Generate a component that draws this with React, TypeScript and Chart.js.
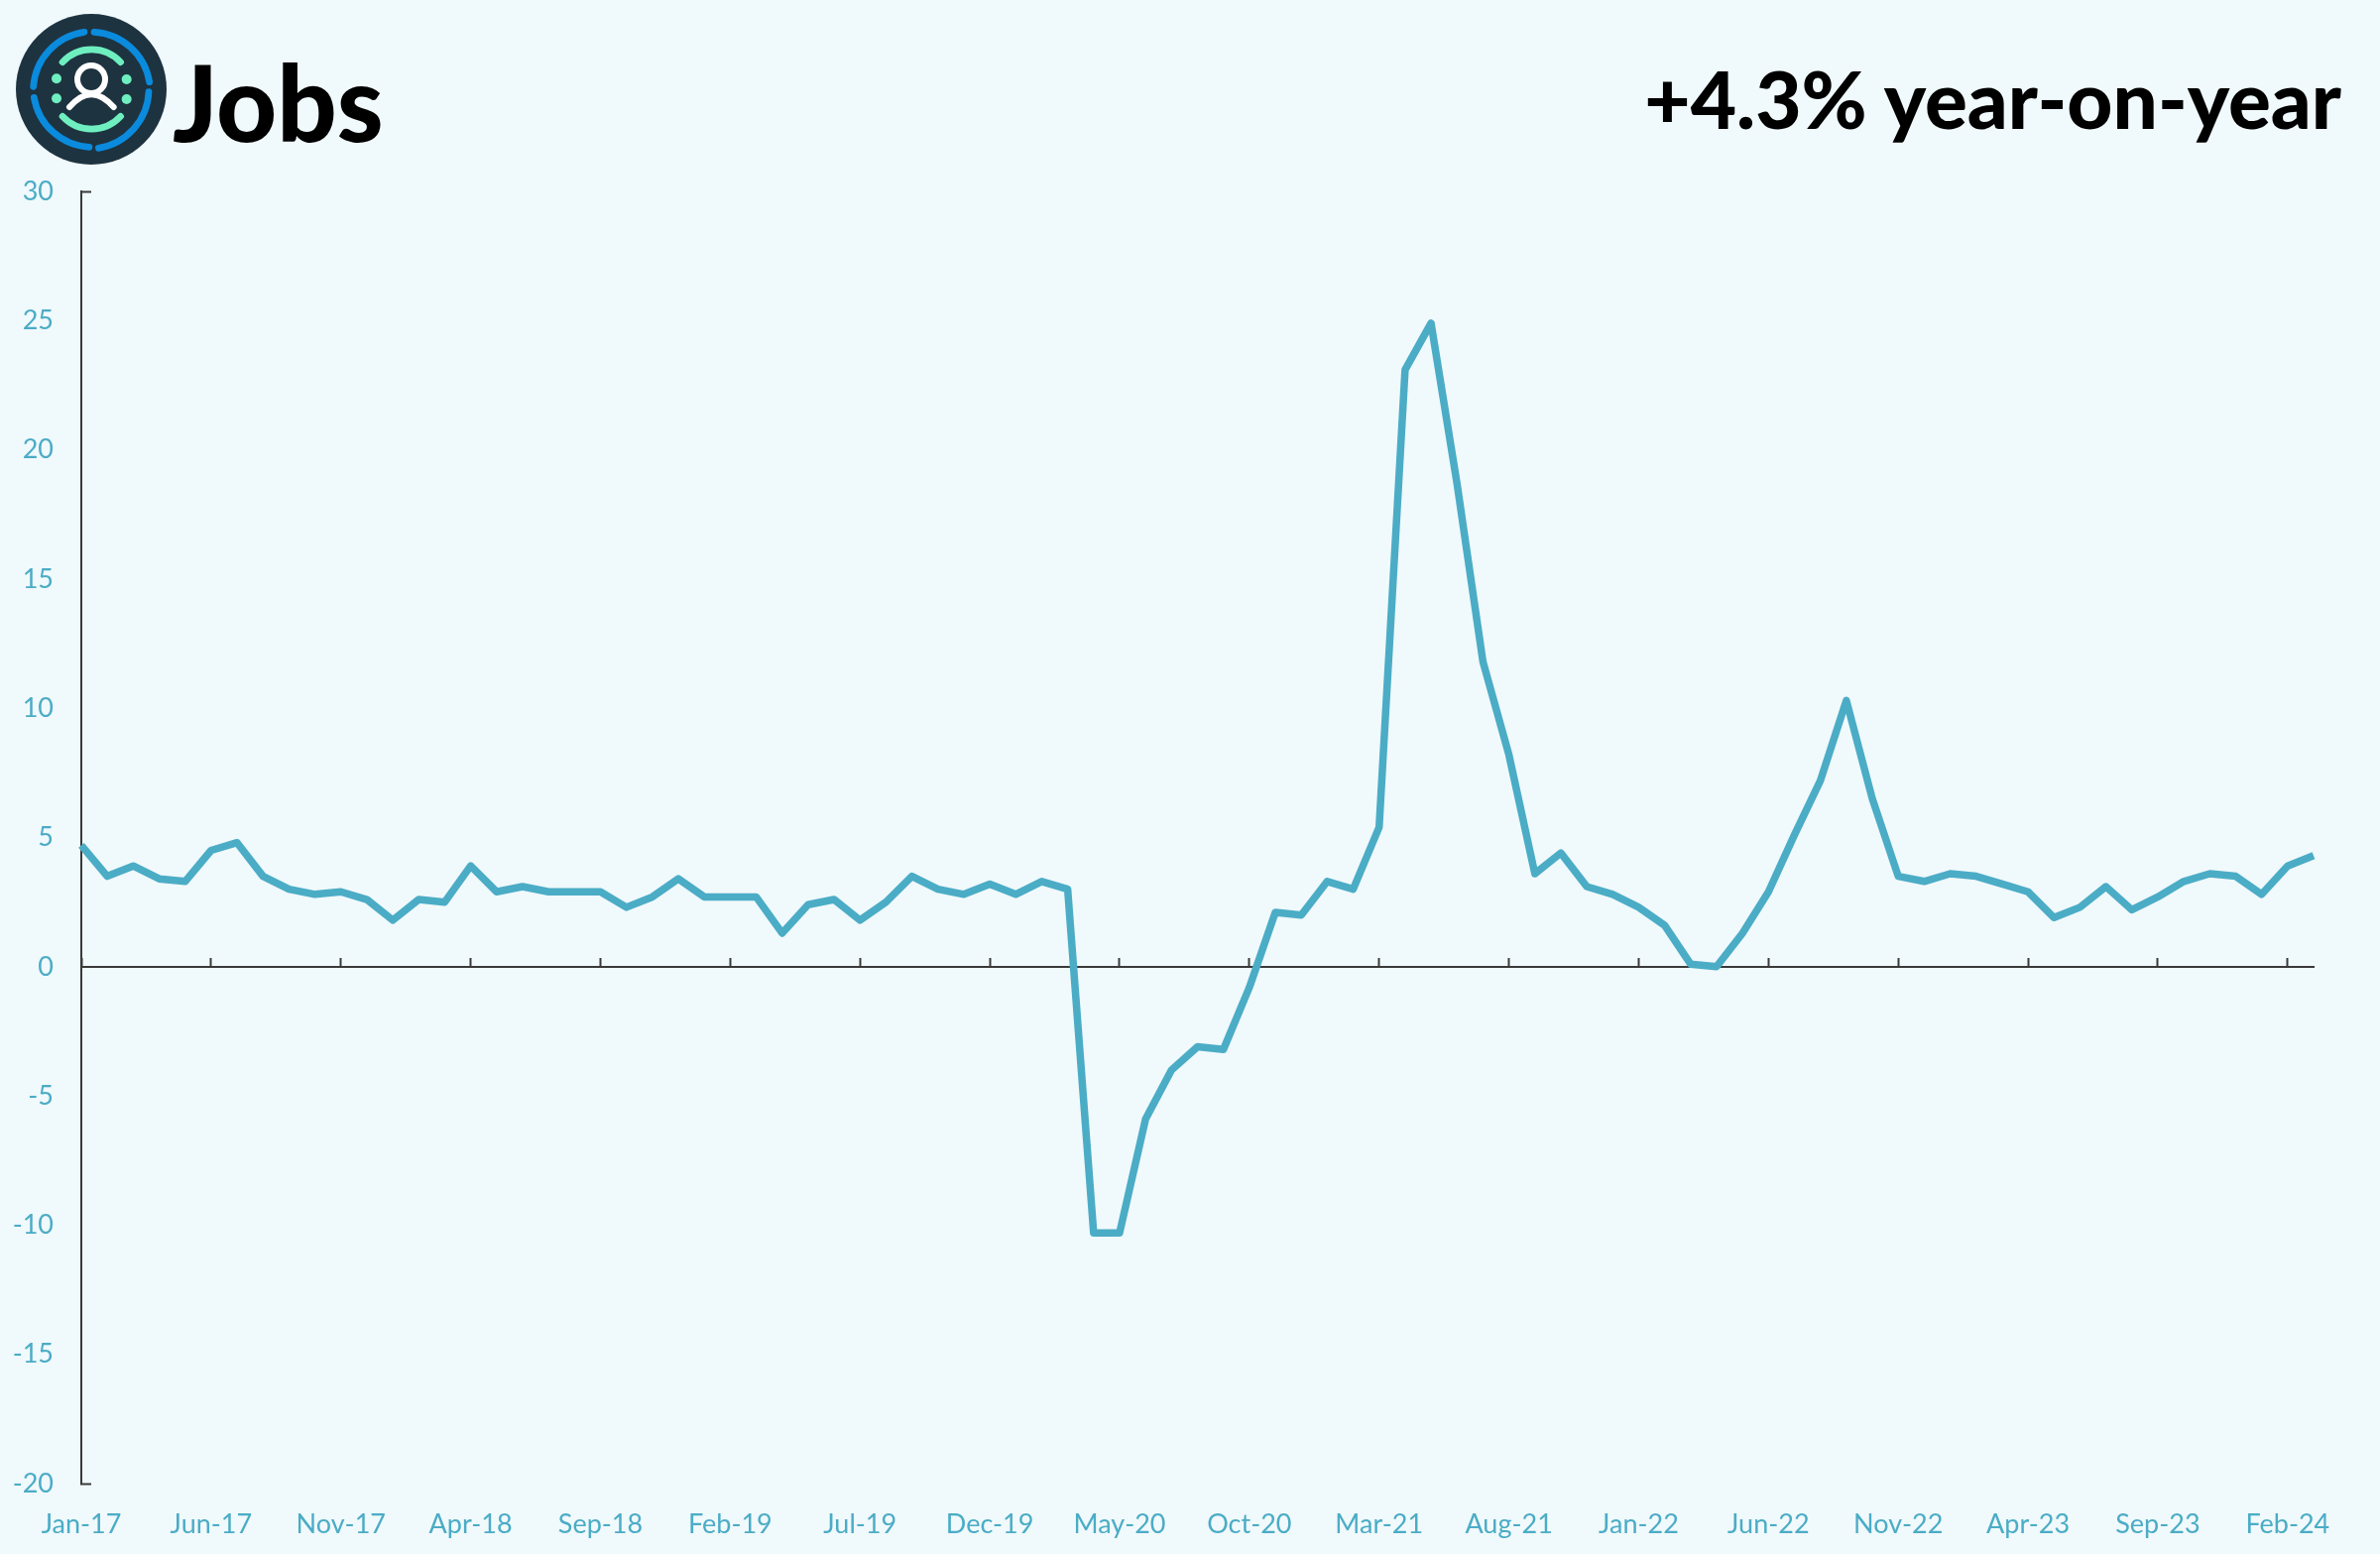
import React, { useEffect, useRef } from 'react';
import { Chart, registerables } from 'chart.js';

Chart.register(...registerables);

const MONTHS = ['Jan', 'Feb', 'Mar', 'Apr', 'May', 'Jun', 'Jul', 'Aug', 'Sep', 'Oct', 'Nov', 'Dec'];
const YEARS = ['17', '18', '19', '20', '21', '22', '23', '24'];
const LAST_YEAR_MONTHS = 3;

const categories: string[] = YEARS.flatMap((y, i) =>
  MONTHS.slice(0, i === YEARS.length - 1 ? LAST_YEAR_MONTHS : 12).map(m => `${m}-${y}`)
);

const jobs2017 = [4.7, 3.5, 3.9, 3.4, 3.3, 4.5, 4.8, 3.5, 3.0, 2.8, 2.9, 2.6];
const jobs2018 = [1.8, 2.6, 2.5, 3.9, 2.9, 3.1, 2.9, 2.9, 2.9, 2.3, 2.7, 3.4];
const jobs2019 = [2.7, 2.7, 2.7, 1.3, 2.4, 2.6, 1.8, 2.5, 3.5, 3.0, 2.8, 3.2];
const jobs2020 = [2.8, 3.3, 3.0, -10.3, -10.3, -5.9, -4.0, -3.1, -3.2, -0.8, 2.1, 2.0];
const jobs2021 = [3.3, 3.0, 5.4, 23.1, 24.9, 18.7, 11.8, 8.2, 3.6, 4.4, 3.1, 2.8];
const jobs2022 = [2.3, 1.6, 0.1, 0.0, 1.3, 2.9, 5.1, 7.2, 10.3, 6.5, 3.5, 3.3];
const jobs2023 = [3.6, 3.5, 3.2, 2.9, 1.9, 2.3, 3.1, 2.2, 2.7, 3.3, 3.6, 3.5];
const jobs2024 = [2.8, 3.9, 4.3];
const jobsValues = [...jobs2017, ...jobs2018, ...jobs2019, ...jobs2020, ...jobs2021, ...jobs2022, ...jobs2023, ...jobs2024];

const BG = '#f0f9fb';
const TEAL = '#4bacc6';
const AXIS = '#3a3a3a';
const FONT = 'Lato, sans-serif';
const LABEL_EVERY = 5;

const everyFifth = function (this: any, _v: any, index: number) {
  return index % LABEL_EVERY === 0 ? categories[index] : null;
};

const Logo: React.FC = () => (
  <svg width={152} height={152} viewBox="0 0 456 456" style={{ position: 'absolute', left: 16, top: 14 }}>
    <circle cx={228} cy={228} r={228} fill="#1e3340" />
    <g fill="none" stroke="#0a8bdd" strokeWidth={20} strokeLinecap="round">
      <path d="M53 220 A180 180 0 0 1 207 55" />
      <path d="M237 55 A180 180 0 0 1 404 206" />
      <path d="M402 236 A180 180 0 0 1 250 406" />
      <path d="M222 403 A180 180 0 0 1 55 253" />
    </g>
    <g fill="none" stroke="#6fefc0" strokeWidth={20} strokeLinecap="round">
      <path d="M141 146 A120 120 0 0 1 317 146" />
      <path d="M141 310 A120 120 0 0 0 317 310" />
    </g>
    <g fill="#6fefc0">
      <circle cx={123} cy={196} r={15} />
      <circle cx={123} cy={256} r={15} />
      <circle cx={335} cy={198} r={15} />
      <circle cx={335} cy={258} r={15} />
    </g>
    <g fill="none" stroke="#ffffff" strokeWidth={18} strokeLinecap="round">
      <circle cx={228} cy={198} r={42} />
      <path d="M162 282 Q228 205 296 282" />
    </g>
  </svg>
);

const App: React.FC = () => {
  const canvasRef = useRef<HTMLCanvasElement>(null);

  useEffect(() => {
    document.body.style.margin = '0';
    document.body.style.background = BG;
    if (!canvasRef.current) return;

    const chart = new Chart(canvasRef.current, {
      type: 'line',
      data: {
        labels: categories,
        datasets: [
          {
            label: 'Jobs',
            data: jobsValues,
            xAxisID: 'x',
            yAxisID: 'y',
            borderColor: TEAL,
            borderWidth: 7.5,
            pointRadius: 0,
            tension: 0,
            borderJoinStyle: 'round',
            clip: false as any,
          },
        ],
      },
      options: {
        responsive: false,
        devicePixelRatio: 1,
        animation: false,
        layout: { padding: { top: 193, right: 67, left: 0, bottom: 0 } },
        plugins: { legend: { display: false }, title: { display: false }, tooltip: { enabled: false } },
        scales: {
          x: {
            type: 'category',
            position: 'bottom',
            offset: false,
            border: { display: false },
            grid: { display: false },
            afterFit: (s: any) => { s.height = 71; },
            ticks: {
              autoSkip: false,
              maxRotation: 0,
              minRotation: 0,
              color: TEAL,
              padding: 17,
              font: { family: FONT, size: 27 },
              callback: everyFifth,
            },
          },
          zero: {
            type: 'category',
            axis: 'x',
            labels: categories,
            position: { y: 0 },
            offset: false,
            border: { display: true, color: AXIS, width: 2 },
            grid: { drawOnChartArea: false, drawTicks: true, tickLength: -10, tickColor: AXIS, tickWidth: 2 },
            ticks: { display: false, autoSkip: false, callback: everyFifth },
          } as any,
          y: {
            type: 'linear',
            position: 'left',
            min: -20,
            max: 30,
            afterFit: (s: any) => { s.width = 82; },
            border: { display: true, color: AXIS, width: 2 },
            grid: {
              drawOnChartArea: false,
              drawTicks: true,
              tickLength: -10,
              tickWidth: 2,
              tickColor: (ctx: any) => (ctx.tick && (ctx.tick.value === 30 || ctx.tick.value === -20) ? AXIS : 'transparent'),
            },
            ticks: {
              stepSize: 5,
              color: TEAL,
              padding: 38,
              font: { family: FONT, size: 27 },
            },
          },
        },
      },
    });

    return () => chart.destroy();
  }, []);

  return (
    <div style={{ position: 'relative', width: 2400, height: 1567, background: BG, overflow: 'hidden' }}>
      <canvas ref={canvasRef} width={2400} height={1567} style={{ position: 'absolute', left: 0, top: 0, width: 2400, height: 1567 }} />
      <Logo />
      <div style={{ position: 'absolute', left: 174, top: 40, fontFamily: FONT, fontWeight: 900, fontSize: 106, lineHeight: '125px', color: '#000' }}>
        Jobs
      </div>
      <div style={{ position: 'absolute', right: 39, top: 49, fontFamily: FONT, fontWeight: 900, fontSize: 80, lineHeight: '100px', color: '#000', whiteSpace: 'nowrap' }}>
        +4.3% year-on-year
      </div>
    </div>
  );
};

export default App;
